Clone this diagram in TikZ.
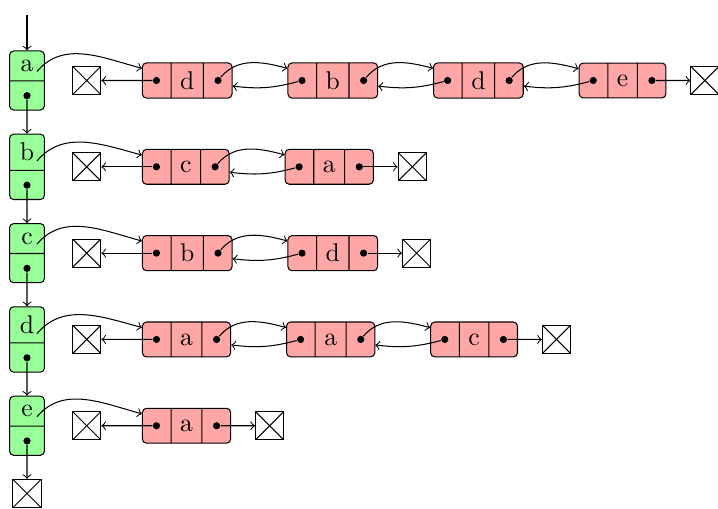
\documentclass[tikz,border=0pt]{standalone}
\usetikzlibrary{positioning,shapes.multipart,calc}

\begin{document}
\begin{tikzpicture}[
        x=0.39pt, y=-0.39pt,
        head/.style={rectangle split, rectangle split parts=2, draw,
                     rounded corners=1.6pt, fill=green!40, minimum width=13.6pt},
        cell/.style={rectangle split, rectangle split horizontal,
                     rectangle split parts=3, draw, rounded corners=1.6pt,
                     fill=red!35, minimum height=13.6pt},
        nil/.style={draw, minimum size=11pt, inner sep=0pt,
                    path picture={\draw (path picture bounding box.north west) -- (path picture bounding box.south east)
                                       (path picture bounding box.north east) -- (path picture bounding box.south west);}},
        dot/.style={circle, fill, inner sep=0pt, minimum size=2.8pt},
        node distance=21.4pt
    ]
        \useasboundingbox (0,0) rectangle (718,508);

        % column of heads
        \coordinate (top) at (27,15);
        \node[head] (a) at (27,80.5) {a\nodepart{two}};
        \node[head, below=9pt of a] (b) {b\nodepart{two}};
        \node[head, below=9pt of b] (c) {c\nodepart{two}};
        \node[head, below=9pt of c] (d) {d\nodepart{two}};
        \node[head, below=9pt of d] (e) {e\nodepart{two}};
        \node[nil, below=9pt of e] (enil) {};

        % rows
        \node[cell, right=37.8pt of a] (a1) {\nodepart{two}d};
        \node[cell, right=of a1] (a2) {\nodepart{two}b};
        \node[cell, right=of a2] (a3) {\nodepart{two}d};
        \node[cell, right=of a3] (a4) {\nodepart{two}e};
        \node[nil, right=9.3pt of a4] (a5) {};

        \node[cell, right=37.8pt of b] (b1) {\nodepart{two}c};
        \node[cell, right=of b1] (b2) {\nodepart{two}a};
        \node[nil, right=9.3pt of b2] (b3) {};

        \node[cell, right=37.8pt of c] (c1) {\nodepart{two}b};
        \node[cell, right=of c1] (c2) {\nodepart{two}d};
        \node[nil, right=9.3pt of c2] (c3) {};

        \node[cell, right=37.8pt of d] (d1) {\nodepart{two}a};
        \node[cell, right=of d1] (d2) {\nodepart{two}a};
        \node[cell, right=of d2] (d3) {\nodepart{two}c};
        \node[nil, right=9.3pt of d3] (d4) {};

        \node[cell, right=37.8pt of e] (e1) {\nodepart{two}a};
        \node[nil, right=9.3pt of e1] (e2) {};

        \foreach \r in {a,b,c,d,e}
            \node[nil, left=15.8pt of \r1] (\r0) {};

        % dots
        \foreach \h in {a,b,c,d,e}
            \node[dot] (p\h) at ($(\h.one split)!.5!(\h.south)$) {};
        \foreach \n in {a1,a2,a3,a4,b1,b2,c1,c2,d1,d2,d3,e1} {
            \node[dot] (l\n) at ($(\n.west)!.5!(\n.one split)$) {};
            \node[dot] (r\n) at ($(\n.two split)!.5!(\n.east)$) {};
        }

        % links
        \draw[->] (top) -- (a);
        \foreach \h/\k in {a/b,b/c,c/d,d/e,e/enil}
            \draw[->] (p\h) -- (\k);
        \foreach \h in {a,b,c,d,e} {
            \draw[->] ($(\h.center |- \h.one)+(3.9pt,0)$) to[out=50,in=165] (\h1);
            \draw[->] (l\h1) -- (\h0);
        }
        \foreach \p/\q in {a1/a2,a2/a3,a3/a4,b1/b2,c1/c2,d1/d2,d2/d3} {
            \draw[->] (r\p) to[out=50,in=165] (\q);
            \draw[->] (l\q) to[out=195,in=-7] (\p);
        }
        \foreach \p/\q in {a4/a5,b2/b3,c2/c3,d3/d4,e1/e2}
            \draw[->] (r\p) -- (\q);
    \end{tikzpicture}
\end{document}
